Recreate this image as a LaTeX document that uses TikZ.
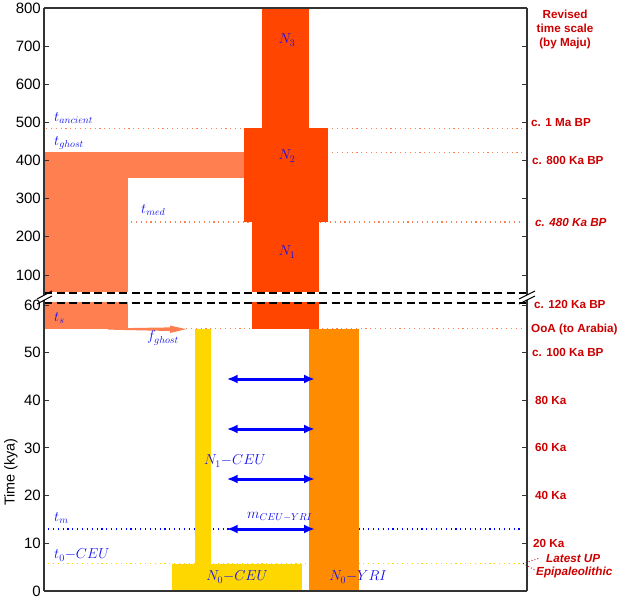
\documentclass[tikz,border=0pt]{standalone}
\usepackage{fontspec}
\newfontfamily\arial{Liberation Sans}
\usetikzlibrary{arrows.meta}
\definecolor{ghostc}{HTML}{FF7F50}
\definecolor{ancc}{HTML}{FF4500}
\definecolor{ceuc}{HTML}{FFD700}
\definecolor{yric}{HTML}{FF8C00}
\definecolor{redlab}{HTML}{CC0000}
\definecolor{bluelab}{HTML}{1010F0}
\definecolor{axisc}{HTML}{333333}
\tikzset{
  ticklab/.style={font=\arial\fontsize{15}{18}\selectfont, anchor=east, inner sep=0pt},
  redl/.style={font=\arial\bfseries\fontsize{11.7}{14}\selectfont, text=redlab, anchor=west, inner sep=0pt},
  redli/.style={redl, font=\arial\bfseries\itshape\fontsize{11.7}{14}\selectfont},
  bl/.style={text=bluelab, font=\fontsize{14.8}{17}\selectfont, inner sep=0pt},
  blw/.style={bl, anchor=west},
  dotl/.style={line width=1.15pt, dash pattern=on 1.15pt off 3.7pt},
  axisl/.style={draw=axisc, line width=1.3pt},
  brk/.style={black, line width=1.3pt, dash pattern=on 8pt off 4.5pt},
  mig/.style={draw=blue, line width=3pt, {Latex[length=11pt,width=9pt]}-{Latex[length=11pt,width=9pt]}}
}
\begin{document}
\begin{tikzpicture}[x=1pt,y=-1pt]
\useasboundingbox (0,0) rectangle (632,600);
% guide lines
\draw[dotl, ghostc] (46,128.3) -- (523,128.3);
\draw[dotl, ghostc] (46,152.3) -- (523,152.3);
\draw[dotl, ghostc] (131,222) -- (523,222);
\draw[dotl, ghostc] (186,328.5) -- (523,328.5);
\draw[dotl, blue] (48,529) -- (523,529);
\draw[dotl, ceuc] (48,563.5) -- (523,563.5);
\draw[dotl, redlab, line width=0.8pt, dash pattern=on 1pt off 2pt] (523,563.5) -- (540,558);
\draw[dotl, redlab, line width=0.8pt, dash pattern=on 1pt off 2pt] (523,563.5) -- (535,570);
% ghost population
\fill[ghostc] (44,152.3) rectangle (244,178);
\fill[ghostc] (44,152.3) rectangle (128,292);
\fill[ghostc] (44,302) rectangle (128,328.5);
\fill[ghostc] (108,328.4) -- (170,327.4) -- (170,325.5) -- (186,329.2) -- (170,333) -- (170,331) -- (108,329.6) -- cycle;
% ancestral population
\fill[ancc] (262.3,8) rectangle (309,128.3);
\fill[ancc] (243.5,128.3) rectangle (327.7,222);
\fill[ancc] (251.7,222) rectangle (319.3,292);
\fill[ancc] (251.7,302) rectangle (319.3,328.5);
% CEU
\fill[ceuc] (195,328.5) rectangle (211,563.5);
\fill[ceuc] (172.3,563.5) rectangle (302.3,591);
% YRI
\fill[yric] (309,328.5) rectangle (359.3,591);
% migration arrows
\foreach \yy/\nm in {379/a,429/b,479/c,529/d}{
  \coordinate (ml\nm) at (226.7,\yy);
  \coordinate (mr\nm) at (315,\yy);
  \draw[mig] (ml\nm) -- (mr\nm);
}
% break lines
\draw[brk] (44,293) -- (527,293);
\draw[brk] (44,303) -- (527,303);
% axes
\draw[axisl] (44,8) -- (527,8);
\draw[axisl] (44,591) -- (527,591);
\draw[axisl] (44,8) -- (44,295.3);
\draw[axisl] (44,300.3) -- (44,591);
\draw[axisl] (527,8) -- (527,295.3);
\draw[axisl] (527,300.3) -- (527,591);
\draw[black, line width=1pt] (37,299) -- (52,291);
\draw[black, line width=1pt] (37,304) -- (52,296);
\draw[black, line width=1pt] (519,299) -- (535,291);
\draw[black, line width=1pt] (519,304) -- (535,296);
\foreach \yy/\lab/\nm in {8.7/800/u8,46.7/700/u7,84.7/600/u6,122.7/500/u5,160.7/400/u4,198.7/300/u3,236.7/200/u2,275/100/u1,305/60/l6,352.5/50/l5,400.2/40/l4,447.9/30/l3,495.6/20/l2,543.3/10/l1,591/0/l0}{
  \draw[axisc, line width=0.9pt] (44,\yy) -- (49,\yy);
  \draw[axisc, line width=0.9pt] (527,\yy) -- (522,\yy);
  \node[ticklab] (tk\nm) at (41,\yy) {\lab};
}
\node[font=\arial\fontsize{14.4}{17}\selectfont, rotate=90, inner sep=0pt] (ylab) at (11,472) {Time (kya)};
% right labels
\node[redl, anchor=center, align=center] (rev) at (565,29) {Revised\\time scale\\(by Maju)};
\node[redl] (r1) at (531,122.7) {c. 1 Ma BP};
\node[redl] (r2) at (532,160.7) {c. 800 Ka BP};
\node[redli] (r3) at (535,222) {c. 480 Ka BP};
\node[redl] (r4) at (534,304) {c. 120 Ka BP};
\node[redl] (r5) at (531,329) {OoA (to Arabia)};
\node[redl] (r6) at (532,352.5) {c. 100 Ka BP};
\node[redl] (r7) at (535,400.2) {80 Ka};
\node[redl] (r8) at (535,447.9) {60 Ka};
\node[redl] (r9) at (535,495.6) {40 Ka};
\node[redl] (r10) at (533,543.3) {20 Ka};
\node[redli] (r11) at (546,559) {Latest UP};
\node[redli] (r12) at (536,572) {Epipaleolithic};
% blue labels
\node[bl] (n3) at (287,40) {$N_3$};
\node[bl] (n2) at (287,156) {$N_2$};
\node[bl] (n1) at (287,252) {$N_1$};
\node[blw] (tanc) at (54,118) {$t_{ancient}$};
\node[blw] (tgh) at (54,143) {$t_{ghost}$};
\node[blw] (tmed) at (141,210) {$t_{med}$};
\node[blw] (ts) at (54,318) {$t_s$};
\node[blw] (fgh) at (147,338) {$f_{ghost}$};
\node[blw] (n1ceu) at (204,461) {$N_1{-}CEU$};
\node[blw] (mcy) at (247,517) {$m_{CEU{-}YRI}$};
\node[bl] (n0ceu) at (237,577) {$N_0{-}CEU$};
\node[bl] (n0yri) at (358,577) {$N_0{-}YRI$};
\node[blw] (tm) at (54,518) {$t_m$};
\node[blw] (t0) at (54,555) {$t_0{-}CEU$};
\end{tikzpicture}
\end{document}
